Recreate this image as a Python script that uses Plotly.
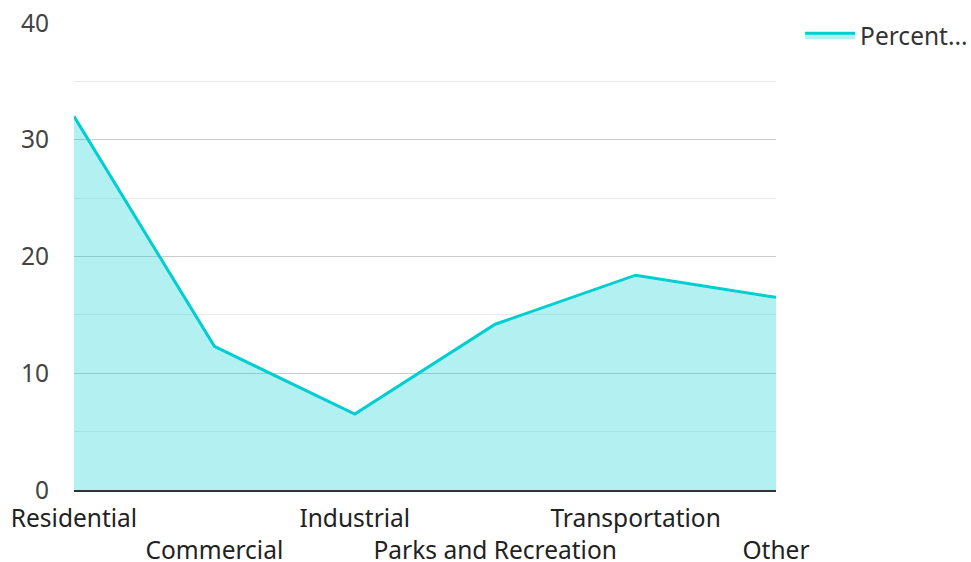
import plotly.graph_objects as go

categories = ["Residential", "Commercial", "Industrial", "Parks and Recreation", "Transportation", "Other"]
values = [32.0, 12.3, 6.5, 14.2, 18.4, 16.5]
series_name = "Percent..."
y_ticks = [0, 10, 20, 30, 40]

# alternate tick labels on two rows
tick_text = [c if i % 2 == 0 else "<br>" + c for i, c in enumerate(categories)]

FS = 24.5

fig = go.Figure()
fig.add_trace(go.Scatter(
    x=list(range(len(categories))), y=values, name=series_name,
    mode="lines", fill="tozeroy",
    line=dict(color="#00CED1", width=3),
    fillcolor="rgba(0,206,209,0.3)",
    showlegend=True,
))

fig.update_layout(
    width=971, height=562,
    margin=dict(l=74, r=195, t=23, b=72, autoexpand=False),
    paper_bgcolor="white", plot_bgcolor="white",
    font=dict(family="Noto Sans, Open Sans, sans-serif", size=FS, color="#444"),
    showlegend=True,
    legend=dict(xref="container", yref="container", x=0.824, y=0.977,
                xanchor="left", yanchor="top", itemwidth=50,
                font=dict(size=FS, color="#333"), bgcolor="rgba(0,0,0,0)"),
    xaxis=dict(
        range=[0, len(categories) - 1], automargin=False,
        tickmode="array", tickvals=list(range(len(categories))), ticktext=tick_text,
        showgrid=False, zeroline=False,
        showline=True, linecolor="#333", linewidth=2,
        ticks="", tickangle=0, ticklabelstandoff=6,
        tickfont=dict(size=FS, color="#222"),
    ),
    yaxis=dict(
        range=[0, 40], tickmode="array", tickvals=y_ticks, automargin=False,
        showgrid=True, gridcolor="#cccccc", gridwidth=1,
        minor=dict(dtick=5, showgrid=True, gridcolor="#ebebeb", gridwidth=1),
        zeroline=False, showline=False, ticks="",
        ticklabelstandoff=24,
        tickfont=dict(size=FS, color="#444"),
    ),
)

fig.write_html("out.html")
